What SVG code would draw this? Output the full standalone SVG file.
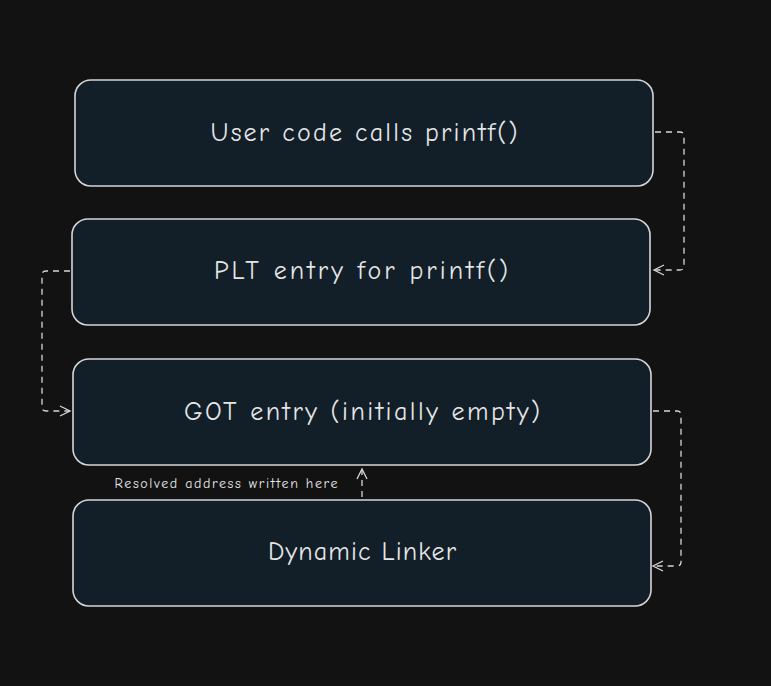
<svg xmlns="http://www.w3.org/2000/svg" width="771" height="686" viewBox="0 0 771 686">
<style>
.box{fill:#121e28;stroke:#d6d6d6;stroke-width:1.6}
.t{font-family:"Comic Neue","Liberation Sans",sans-serif;font-size:26px;fill:#e6e6e6;text-anchor:middle;dominant-baseline:central}
.c{fill:none;stroke:#d6d6d6;stroke-width:1.3;stroke-dasharray:6 5}
.a{fill:none;stroke:#d6d6d6;stroke-width:1.3}
</style>
<rect width="771" height="686" fill="#121212"/>
<g id="n1"><rect class="box" x="75" y="80" width="578" height="106" rx="16"/><text class="t" x="364" y="133" textLength="307" lengthAdjust="spacing">User code calls printf()</text></g>
<g id="n2"><rect class="box" x="72" y="219" width="578" height="106" rx="16"/><text class="t" x="361" y="271" textLength="294" lengthAdjust="spacing">PLT entry for printf()</text></g>
<g id="n3"><rect class="box" x="73" y="359" width="578" height="106" rx="16"/><text class="t" x="362" y="412" textLength="356" lengthAdjust="spacing">GOT entry (initially empty)</text></g>
<g id="n4"><rect class="box" x="73" y="500" width="578" height="106" rx="16"/><text class="t" x="362" y="552" textLength="188" lengthAdjust="spacing">Dynamic Linker</text></g>
<g id="connectors">
<path class="c" d="M655 132 H680 Q684 132 684 136 V266 Q684 270 680 270 H655"/>
<path class="a" d="M664 265 L654 270 L664 275"/>
<path class="c" d="M70 271 H46 Q42 271 42 275 V407 Q42 411 46 411 H70"/>
<path class="a" d="M60 406 L70 411 L60 416"/>
<path class="c" d="M653 411 H677 Q681 411 681 415 V562 Q681 566 677 566 H653"/>
<path class="a" d="M663 561 L653 566 L663 571"/>
<path class="c" d="M362 497 V470"/>
<path class="a" d="M357 479 L362 469 L367 479"/>
<text x="226" y="483" font-family="'Comic Neue','Liberation Sans',sans-serif" font-size="14" fill="#e6e6e6" text-anchor="middle" dominant-baseline="central" textLength="223" lengthAdjust="spacing">Resolved address written here</text>
</g>
</svg>
